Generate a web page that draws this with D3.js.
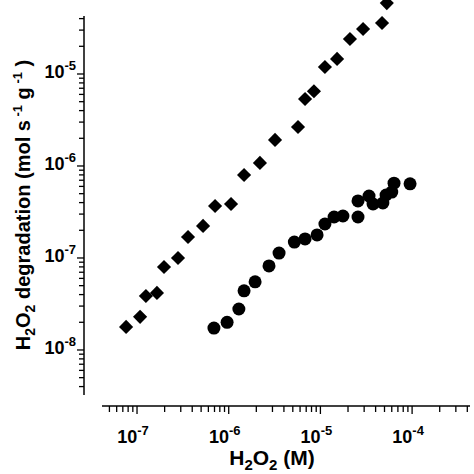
<!DOCTYPE html>
<html>
<head>
<meta charset="utf-8">
<script src="https://cdn.jsdelivr.net/npm/d3@7"></script>
<style>
body { margin: 0; background: #fff; }
text { font-family: "Liberation Sans", Arial, sans-serif; font-weight: bold; fill: #000; }
</style>
</head>
<body>
<svg id="chart" width="474" height="474"></svg>
<script>
// Data: H2O2 concentration (M) vs degradation rate (mol s-1 g-1)
const diamondX = [7.6e-8, 1.08e-7, 1.25e-7, 1.65e-7, 1.97e-7, 2.8e-7, 3.6e-7, 5.25e-7, 7.1e-7, 1.06e-6,
    1.47e-6, 2.19e-6, 3.2e-6, 5.7e-6, 6.8e-6, 8.5e-6, 1.12e-5, 1.52e-5, 2.1e-5, 2.92e-5, 4.7e-5, 5.3e-5]
const diamondY = [1.78e-8, 2.29e-8, 3.86e-8, 4.17e-8, 7.98e-8, 1.0e-7, 1.69e-7, 2.23e-7, 3.67e-7, 3.86e-7,
    7.98e-7, 1.08e-6, 1.92e-6, 2.65e-6, 5.35e-6, 6.5e-6, 1.19e-5, 1.46e-5, 2.4e-5, 3.08e-5, 3.58e-5, 5.9e-5]
const circleX = [6.9e-7, 9.6e-7, 1.29e-6, 1.47e-6, 1.94e-6, 2.75e-6, 3.54e-6, 5.2e-6, 6.8e-6, 9.2e-6, 1.12e-5,
    1.41e-5, 1.76e-5, 2.57e-5, 2.57e-5, 3.39e-5, 3.75e-5, 4.8e-5, 5.2e-5, 6.0e-5, 6.35e-5, 9.5e-5]
const circleY = [1.73e-8, 2.0e-8, 2.79e-8, 4.4e-8, 5.5e-8, 8.2e-8, 1.13e-7, 1.49e-7, 1.61e-7, 1.78e-7, 2.34e-7,
    2.79e-7, 2.86e-7, 2.79e-7, 4.17e-7, 4.72e-7, 3.86e-7, 3.96e-7, 4.84e-7, 5.2e-7, 6.5e-7, 6.4e-7]
const xMajor = [-7, -6, -5, -4]
const yMajor = [-8, -7, -6, -5]

const svg = d3.select("#chart")

const x = d3.scaleLog().domain([4.15e-8, 4.28e-4]).range([102, 470])
const y = d3.scaleLog().domain([3.24e-9, 4.27e-5]).range([395, 16])

// all ticks 1..9 per decade, major at powers of ten
function tickVals(scale){
    const [a, b] = scale.domain()
    const out = []
    for(let e = Math.floor(Math.log10(a)); e <= Math.ceil(Math.log10(b)); e++){
        for(let m = 1; m < 10; m++){
            const v = m*Math.pow(10, e)
            if(v >= a && v <= b) out.push(v)
        }
    }
    return out
}
const isMajor = v => Math.abs(Math.log10(v) - Math.round(Math.log10(v))) < 1e-6

// x axis
const xg = svg.append("g").attr("transform", "translate(0,406)")
xg.append("line").attr("x1", 102).attr("x2", 470).attr("stroke", "#000").attr("stroke-width", 1.5)
xg.selectAll("line.t").data(tickVals(x)).join("line")
    .attr("class", "t")
    .attr("x1", d => x(d)).attr("x2", d => x(d))
    .attr("y1", 0).attr("y2", d => isMajor(d) ? 8 : 6)
    .attr("stroke", "#000").attr("stroke-width", 1.3)
const xl = xg.selectAll("text").data(xMajor).join("text")
    .attr("x", d => x(Math.pow(10, d)) - 4)
    .attr("y", 37)
    .attr("text-anchor", "middle")
    .style("font-size", "18px")
xl.append("tspan").text("10")
xl.append("tspan").attr("dy", -8).style("font-size", "13px").text(d => d)

// y axis
const yg = svg.append("g").attr("transform", "translate(84,0)")
yg.append("line").attr("y1", 16).attr("y2", 395).attr("stroke", "#000").attr("stroke-width", 1.5)
yg.selectAll("line.t").data(tickVals(y)).join("line")
    .attr("class", "t")
    .attr("y1", d => y(d)).attr("y2", d => y(d))
    .attr("x1", 0).attr("x2", d => isMajor(d) ? -7 : -5)
    .attr("stroke", "#000").attr("stroke-width", 1.3)
const yl = yg.selectAll("text").data(yMajor).join("text")
    .attr("x", -8)
    .attr("y", d => y(Math.pow(10, d)) + 4)
    .attr("text-anchor", "end")
    .style("font-size", "18px")
yl.append("tspan").text("10")
yl.append("tspan").attr("dy", -8).style("font-size", "13px").text(d => d)

// axis titles
const xt = svg.append("text").attr("x", 272).attr("y", 465).attr("text-anchor", "middle").style("font-size", "21px")
xt.append("tspan").text("H")
xt.append("tspan").attr("dy", 5).style("font-size", "15px").text("2")
xt.append("tspan").attr("dy", -5).text("O")
xt.append("tspan").attr("dy", 5).style("font-size", "15px").text("2")
xt.append("tspan").attr("dy", -5).text(" (M)")

const yt = svg.append("text").attr("transform", "translate(30,205) rotate(-90)").attr("text-anchor", "middle").style("font-size", "20px")
yt.append("tspan").text("H")
yt.append("tspan").attr("dy", 5).style("font-size", "14px").text("2")
yt.append("tspan").attr("dy", -5).text("O")
yt.append("tspan").attr("dy", 5).style("font-size", "14px").text("2")
yt.append("tspan").attr("dy", -5).text(" degradation (mol s")
yt.append("tspan").attr("dy", -8).style("font-size", "13px").text(" -1")
yt.append("tspan").attr("dy", 8).text(" g")
yt.append("tspan").attr("dy", -8).style("font-size", "13px").text(" -1")
yt.append("tspan").attr("dy", 8).text(" )")

// markers
svg.append("g").selectAll("path").data(diamondX).join("path")
    .attr("d", d3.symbol(d3.symbolSquare, 100))
    .attr("transform", (d, i) => `translate(${x(d)},${y(diamondY[i])}) rotate(45)`)
    .attr("fill", "#000")

svg.append("g").selectAll("circle").data(circleX).join("circle")
    .attr("cx", d => x(d))
    .attr("cy", (d, i) => y(circleY[i]))
    .attr("r", 6.5)
    .attr("fill", "#000")
</script>
</body>
</html>
